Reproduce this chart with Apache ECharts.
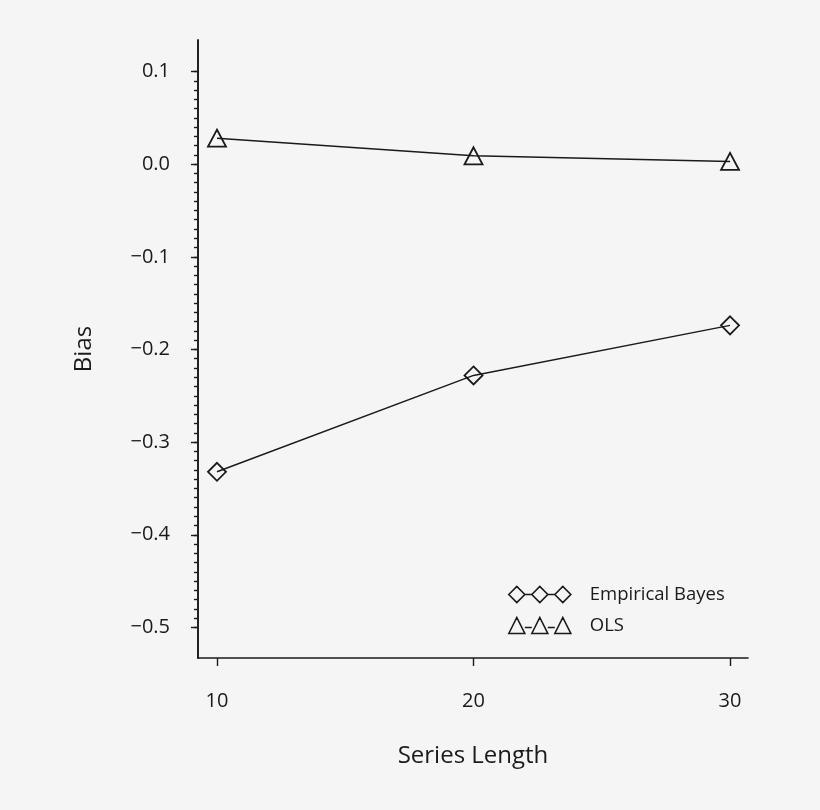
<!DOCTYPE html>
<html><head><meta charset="utf-8">
<script src="https://cdn.jsdelivr.net/npm/echarts@6/dist/echarts.min.js"></script>
<style>html,body{margin:0;padding:0;background:#f5f5f5}#c{width:820px;height:810px}</style>
</head><body><div id="c"></div>
<script>
const seriesLengths = [10, 20, 30];
const empiricalBayes = [-0.332, -0.228, -0.174];
const ols = [0.028, 0.009, 0.003];
const yTickValues = [-0.5, -0.4, -0.3, -0.2, -0.1, 0.0, 0.1];
const xTickValues = [10, 20, 30];
const seriesNames = ['Empirical Bayes', 'OLS'];

const minorTicks = [];
for (let i = 0; i <= 60; i++) minorTicks.push(Math.round((-0.5 + i * 0.01) * 1000) / 1000);

const ink = '#1a1a1a';
const font = '"Open Sans", "Noto Sans", sans-serif';
const yMin = -0.533, yMax = 0.134;

const diamondIcon = 'path://M0,8L8,0L16,8L8,16ZM16,8L23,8M23,8L31,0L39,8L31,16ZM39,8L46,8M46,8L54,0L62,8L54,16Z';
const triangleIcon = 'path://M0,16L8,0L16,16ZM16,10L23,10M23,16L31,0L39,16ZM39,10L46,10M46,16L54,0L62,16Z';

const fmt = v => {
  const s = Math.abs(v) < 1e-9 ? '0.0' : Math.abs(v).toFixed(1);
  return v < -1e-9 ? '\u2212' + s : s;
};

const chart = echarts.init(document.getElementById('c'));
chart.setOption({
  backgroundColor: '#f5f5f5',
  animation: false,
  grid: {left: 198, right: 72, top: 40, bottom: 152},
  xAxis: {
    type: 'value', min: 9.26, max: 30.7,
    name: 'Series Length', nameLocation: 'middle', nameGap: 86,
    nameTextStyle: {fontFamily: font, fontSize: 24, color: ink},
    axisLine: {show: true, onZero: false, lineStyle: {color: ink, width: 1.6}},
    axisTick: {show: true, length: 8, inside: false, customValues: xTickValues, lineStyle: {color: ink, width: 1.4}},
    axisLabel: {customValues: xTickValues, margin: 33, fontFamily: font, fontSize: 20, color: ink},
    splitLine: {show: false}
  },
  yAxis: [{
    type: 'value', min: yMin, max: yMax, position: 'left',
    axisLine: {show: true, onZero: false, lineStyle: {color: ink, width: 1.6}},
    axisTick: {show: true, length: 4, customValues: minorTicks, lineStyle: {color: ink, width: 1.4}},
    axisLabel: {show: false},
    splitLine: {show: false}
  }, {
    type: 'value', min: yMin, max: yMax, position: 'left',
    name: 'Bias', nameLocation: 'middle', nameGap: 102,
    nameTextStyle: {fontFamily: font, fontSize: 24, color: ink},
    axisLine: {show: true, onZero: false, lineStyle: {color: ink, width: 1.6}},
    axisTick: {show: true, length: 7, customValues: yTickValues, lineStyle: {color: ink, width: 1.4}},
    axisLabel: {customValues: yTickValues, margin: 28, formatter: fmt, fontFamily: font, fontSize: 20, color: ink},
    splitLine: {show: false}
  }],
  legend: {
    left: 508, top: 585, orient: 'vertical', itemGap: 12, padding: 0,
    itemWidth: 62, itemHeight: 16,
    textStyle: {fontFamily: font, fontSize: 18.5, color: ink, padding: [0, 0, 0, 14]},
    itemStyle: {color: 'rgba(0,0,0,0)', borderColor: ink, borderWidth: 1.6},
    data: [{name: seriesNames[0], icon: diamondIcon}, {name: seriesNames[1], icon: triangleIcon}]
  },
  series: [{
    name: seriesNames[0], type: 'line', yAxisIndex: 0,
    data: seriesLengths.map((x, i) => [x, empiricalBayes[i]]),
    symbol: 'diamond', symbolSize: [18, 18],
    lineStyle: {color: ink, width: 1.5},
    itemStyle: {color: 'rgba(0,0,0,0)', borderColor: ink, borderWidth: 1.8}
  }, {
    name: seriesNames[1], type: 'line', yAxisIndex: 0,
    data: seriesLengths.map((x, i) => [x, ols[i]]),
    symbol: 'triangle', symbolSize: [18, 17],
    lineStyle: {color: ink, width: 1.5},
    itemStyle: {color: 'rgba(0,0,0,0)', borderColor: ink, borderWidth: 1.8}
  }]
});
</script></body></html>
